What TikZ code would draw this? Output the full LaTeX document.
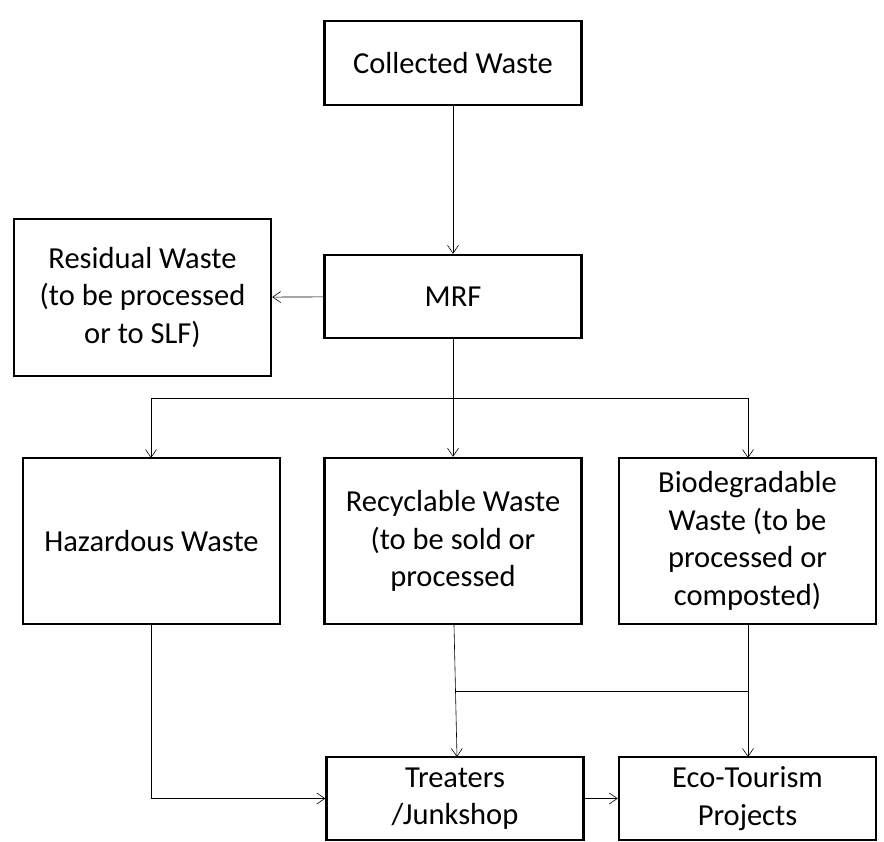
\documentclass[tikz,border=0pt]{standalone}
\usepackage{fontspec}
\setmainfont{Carlito}
\usetikzlibrary{arrows.meta}
\begin{document}
\begin{tikzpicture}[x=1pt,y=-1pt,
  box/.style={draw,line width=2.4pt,align=center,inner sep=0pt,minimum width=257pt,font=\fontsize{30.5}{37.5}\selectfont},
  arr/.style={-{Straight Barb[length=8pt,width=11pt]},line width=0.6pt},
  ln/.style={line width=0.6pt}]
\useasboundingbox (0,0) rectangle (884,842);
\node[box,minimum height=84pt] (cw) at (453,63) {Collected Waste};
\node[box,minimum height=83pt] (mrf) at (453,296.5) {MRF};
\node[box,minimum height=157pt] (res) at (142.5,297.5) {Residual Waste\\(to be processed\\or to SLF)};
\node[box,minimum height=166pt] (haz) at (151.5,541) {Hazardous Waste};
\node[box,minimum height=166pt] (rec) at (453,541) {Recyclable Waste\\(to be sold or\\processed};
\node[box,minimum height=166pt] (bio) at (747.5,541) {Biodegradable\\Waste (to be\\processed or\\composted)};
\node[box,minimum height=83pt] (tre) at (455,798.5) {Treaters\\/Junkshop};
\node[box,minimum height=83pt] (eco) at (747.5,798.5) {Eco-Tourism\\Projects};
\coordinate (j1) at (453,398);
\coordinate (j2) at (456,691);
\coordinate (j3) at (748,691);
\draw[arr] (cw) -- (mrf);
\draw[arr] (mrf) -- (res);
\draw[arr] (mrf) -- (rec);
\draw[arr] (j1) -| (151,458);
\draw[arr] (j1) -| (748,458);
\draw[arr] (haz.south -| 151,0) |- (tre);
\draw[arr] (rec.south -| 454,0) -- (457,757);
\draw[ln] (bio.south -| 748,0) -- (j3) -- (j2);
\draw[arr] (j3) -- (748,757);
\draw[arr] (tre) -- (eco);
\end{tikzpicture}
\end{document}
